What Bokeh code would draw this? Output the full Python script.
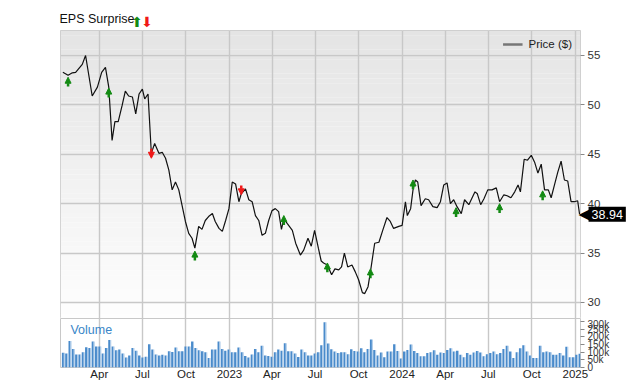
import numpy as np
import pandas as pd
from bokeh.plotting import figure
from bokeh.layouts import column
from bokeh.models import (Range1d, FixedTicker, Grid, Label, Arrow, NormalHead,
                          ColumnDataSource, Legend, LegendItem, CustomJSTickFormatter)
from bokeh.embed import file_html
from bokeh.resources import INLINE

# ---------------- data ----------------
price_dates = [
    "2022-01-14", "2022-01-25", "2022-02-03", "2022-02-10", "2022-02-24", "2022-03-03", "2022-03-17", "2022-03-28",
    "2022-04-06", "2022-04-14", "2022-04-21", "2022-04-28", "2022-05-04", "2022-05-11", "2022-05-19", "2022-05-26",
    "2022-06-02", "2022-06-10", "2022-06-17", "2022-06-24", "2022-07-01", "2022-07-06", "2022-07-13", "2022-07-20",
    "2022-07-27", "2022-08-05", "2022-08-12", "2022-08-19", "2022-08-26", "2022-09-02", "2022-09-09", "2022-09-16",
    "2022-09-23", "2022-09-30", "2022-10-07", "2022-10-14", "2022-10-20", "2022-10-28", "2022-11-04", "2022-11-11",
    "2022-11-18", "2022-11-26", "2022-12-02", "2022-12-10", "2022-12-17", "2022-12-24", "2022-12-31",
    "2023-01-07", "2023-01-14", "2023-01-21", "2023-01-26", "2023-02-04", "2023-02-11", "2023-02-18", "2023-02-25",
    "2023-03-04", "2023-03-11", "2023-03-18", "2023-03-25", "2023-04-01", "2023-04-08", "2023-04-15", "2023-04-21",
    "2023-04-26", "2023-05-03", "2023-05-14", "2023-05-21", "2023-05-31", "2023-06-07", "2023-06-16", "2023-06-23",
    "2023-06-30", "2023-07-08", "2023-07-14", "2023-07-19", "2023-07-27", "2023-08-05", "2023-08-12", "2023-08-20",
    "2023-08-26", "2023-09-01", "2023-09-08", "2023-09-17", "2023-09-24", "2023-10-01", "2023-10-09", "2023-10-14",
    "2023-10-21", "2023-10-26", "2023-11-04", "2023-11-13", "2023-11-21", "2023-11-30", "2023-12-07", "2023-12-14",
    "2023-12-25",
    "2024-01-01", "2024-01-08", "2024-01-12", "2024-01-19", "2024-01-24", "2024-01-29", "2024-02-03", "2024-02-10",
    "2024-02-19", "2024-02-26", "2024-03-06", "2024-03-15", "2024-03-22", "2024-03-29", "2024-04-05", "2024-04-12",
    "2024-04-19", "2024-04-26", "2024-05-05", "2024-05-12", "2024-05-21", "2024-06-03", "2024-06-08", "2024-06-15",
    "2024-06-22", "2024-06-30", "2024-07-09", "2024-07-18", "2024-07-25", "2024-08-03", "2024-08-10", "2024-08-18",
    "2024-08-26", "2024-09-02", "2024-09-07", "2024-09-15", "2024-09-22", "2024-09-30", "2024-10-07", "2024-10-14",
    "2024-10-21", "2024-10-28", "2024-11-05", "2024-11-11", "2024-11-18", "2024-11-25", "2024-12-02", "2024-12-09",
    "2024-12-16", "2024-12-23", "2024-12-30", "2025-01-06", "2025-01-10",
]
price = [
    53.3, 53.0, 53.25, 53.3, 54.1, 55.0, 50.9, 51.8,
    53.3, 53.8, 51.8, 46.4, 48.3, 48.3, 49.9, 51.4,
    50.9, 50.8, 49.1, 51.1, 51.6, 50.6, 51.1, 45.1,
    46.1, 45.1, 45.2, 44.6, 43.4, 41.4, 42.2, 41.4,
    39.8, 38.2, 37.0, 36.5, 35.5, 37.7, 37.4, 38.3,
    38.7, 39.0, 38.2, 37.5, 37.2, 38.3, 39.5,
    42.2, 42.0, 40.2, 41.0, 41.5, 40.4, 40.2, 38.8,
    38.3, 36.8, 37.0, 38.3, 39.3, 39.5, 39.2, 37.4,
    38.5, 38.0, 37.3, 36.0, 34.8, 35.3, 36.5, 35.7,
    37.3, 35.5, 34.2, 34.0, 33.8, 32.8, 33.4, 33.3,
    33.6, 35.0, 33.6, 33.8, 33.1, 32.3, 31.0, 30.9,
    31.6, 33.1, 36.0, 36.1, 37.3, 38.6, 38.2, 37.5,
    37.7,
    37.8, 40.2, 38.8, 39.5, 41.4, 42.4, 42.2, 39.8,
    40.5, 40.4, 39.7, 39.6, 40.2, 41.9, 42.1, 40.0,
    40.4, 39.7, 39.0, 40.4, 39.9, 41.2, 41.0, 39.9,
    40.5, 41.4, 41.4, 41.6, 40.2, 40.9, 40.8, 40.6,
    41.2, 41.9, 41.2, 44.5, 44.4, 44.9, 44.2, 43.1,
    44.0, 41.4, 41.4, 40.6, 41.9, 43.2, 44.3, 42.4,
    42.3, 40.2, 40.2, 40.3, 38.94,
]
last_price = 38.94

eps_dates = ["2022-01-25", "2022-04-21", "2022-07-20", "2022-10-20", "2023-01-26", "2023-04-26",
             "2023-07-27", "2023-10-26", "2024-01-24", "2024-04-24", "2024-07-25", "2024-10-24"]
eps_beat = [True, True, False, True, False, True, True, True, True, True, True, True]
eps_price = [52.8, 51.7, 44.6, 35.2, 40.9, 38.8, 34.0, 33.4, 42.4, 39.6, 40.0, 41.3]

volume_start = "2022-01-14"
volume_k = [
    96, 92, 173, 121, 85, 85, 100, 133, 127, 169,
    137, 137, 92, 127, 179, 137, 112, 117, 92, 65,
    79, 127, 110, 79, 65, 71, 152, 117, 85, 79,
    83, 79, 106, 102, 131, 106, 106, 137, 137, 169,
    127, 112, 106, 100, 62, 117, 117, 169, 121, 110,
    117, 100, 100, 131, 100, 75, 65, 85, 121, 100,
    142, 79, 75, 71, 100, 117, 110, 158, 106, 106,
    92, 69, 117, 100, 79, 79, 92, 100,
    146,
    296, 156, 119, 104, 94, 100, 100, 87, 119, 108,
    104, 125, 100, 121, 183, 115, 79, 98, 67, 104,
    104, 152, 108, 58, 104, 115, 150, 108, 94, 73,
    73, 94, 100, 112, 83, 98, 94, 115, 125, 104,
    110, 83, 67, 94, 83, 98, 108, 98, 73, 87,
    94, 104, 87, 94, 121, 142, 104, 62, 100, 125,
    146, 104, 79, 62, 62, 142, 100, 104, 100, 83,
    83, 94, 79, 135, 67, 67, 83, 90,
]

tick_dates = ["2022-04-01", "2022-07-01", "2022-10-01", "2023-01-01", "2023-04-01", "2023-07-01",
              "2023-10-01", "2024-01-01", "2024-04-01", "2024-07-01", "2024-10-01", "2025-01-01"]
tick_labels = ["Apr", "Jul", "Oct", "2023", "Apr", "Jul", "Oct", "2024", "Apr", "Jul", "Oct", "2025"]
price_ticks = [30, 35, 40, 45, 50, 55]
volume_ticks = [0, 50, 100, 150, 200, 250, 300]

# ---------------- styling ----------------
FONT = "Liberation Sans"
GRID = "#c8c8c8"
UP = "#138a13"
DOWN = "#f01818"
x_start = pd.Timestamp("2022-01-09")
x_end = pd.Timestamp("2025-01-12")
DAY = 86400000.0

tick_ms = [pd.Timestamp(d).value / 1e6 for d in tick_dates]
xr = Range1d(start=x_start, end=x_end)
y_lo, y_hi = 28.38, 57.53

p1 = figure(width=640, height=318, x_range=xr, y_range=Range1d(y_lo, y_hi),
            x_axis_type="datetime", x_axis_location=None, y_axis_location="right",
            output_backend="svg", toolbar_location=None,
            min_border_left=60, min_border_right=60, min_border_top=30, min_border_bottom=0)
p1.background_fill_color = "white"
p1.border_fill_color = "white"
p1.outline_line_color = GRID
p1.title.text = "EPS Surprise"
p1.title.text_font = FONT
p1.title.text_font_size = "12.5px"
p1.title.text_font_style = "normal"
p1.title.text_color = "#111111"
p1.title.offset = -1

# gradient background (decoration)
n = 60
edges = np.linspace(y_lo, y_hi, n + 1)
cols = []
for i in range(n):
    f = (i + 0.5) / n
    g = int(round(254 - f * (254 - 228)))
    cols.append("#%02x%02x%02x" % (g, g, g))
p1.quad(left=x_start, right=x_end, bottom=edges[:-1], top=edges[1:],
        fill_color=cols, line_color=None, level="image")

p1.add_layout(Grid(dimension=0, ticker=FixedTicker(ticks=tick_ms),
                   grid_line_color=GRID, grid_line_width=1.4))
p1.ygrid.grid_line_color = GRID
p1.ygrid.grid_line_width = 1.4
ax = p1.yaxis[0]
ax.ticker = FixedTicker(ticks=price_ticks)
ax.axis_line_color = None
ax.major_tick_out = 4
ax.major_tick_in = 0
ax.major_tick_line_color = "#888888"
ax.minor_tick_line_color = None
ax.major_label_standoff = 3
ax.major_label_text_font = FONT
ax.major_label_text_font_size = "11.5px"
ax.major_label_text_color = "#333333"

p1.line(pd.to_datetime(price_dates), price, line_color="#111111", line_width=1.2)

# legend sample line (kept outside the visible x range)
leg_r = p1.line(x=[x_start - pd.Timedelta(days=40), x_start - pd.Timedelta(days=20)],
                y=[40, 40], line_color="#777777", line_width=2.5)
legend = Legend(items=[LegendItem(label="Price ($)", renderers=[leg_r])],
                location="top_right", background_fill_alpha=0, border_line_color=None,
                label_text_font=FONT, label_text_font_size="11.5px", label_text_color="#222222",
                glyph_width=20, glyph_height=10, label_standoff=6, margin=8, padding=4)
p1.add_layout(legend)

# EPS surprise arrows
ed = pd.to_datetime(eps_dates)
for beat, color in ((True, UP), (False, DOWN)):
    xs = [d for d, b in zip(ed, eps_beat) if b == beat]
    tips = [v for v, b in zip(eps_price, eps_beat) if b == beat]
    starts = [t - 0.95 for t in tips] if beat else [t + 0.95 for t in tips]
    src = ColumnDataSource(dict(x=xs, y0=starts, y1=tips))
    p1.add_layout(Arrow(end=NormalHead(size=6, fill_color=color, line_color=color, line_width=1),
                        x_start="x", y_start="y0", x_end="x", y_end="y1", source=src,
                        line_color=color, line_width=2.5))

# title arrows (placed in the empty left side panel, positioned in data space)
p1.add_layout(Label(x=pd.Timestamp("2022-06-20"), y=58.35, text="\u2b06", text_baseline="middle",
                    text_align="center", text_color=UP, text_font="DejaVu Sans",
                    text_font_size="14px"), "left")
p1.add_layout(Label(x=pd.Timestamp("2022-07-11"), y=58.35, text="\u2b07", text_baseline="middle",
                    text_align="center", text_color=DOWN, text_font="DejaVu Sans",
                    text_font_size="14px"), "left")

# last price tag
last_dt = pd.Timestamp(price_dates[-1])
p1.add_layout(Label(x=last_dt, y=last_price, text="\u25c0", x_offset=-1,
                    text_baseline="middle", text_align="left", text_color="black",
                    text_font="DejaVu Sans", text_font_size="15px"), "left")
p1.add_layout(Label(x=last_dt, y=last_price, text="%.2f" % last_price, x_offset=9,
                    text_baseline="middle", text_align="left", text_color="white",
                    text_font=FONT, text_font_size="12.5px",
                    background_fill_color="black", padding=3), "right")

# ---------------- volume ----------------
p2 = figure(width=640, height=64, x_range=xr, y_range=Range1d(0, 320),
            x_axis_type="datetime", y_axis_location="right",
            output_backend="svg", toolbar_location=None,
            min_border_left=60, min_border_right=60, min_border_top=0, min_border_bottom=0)
p2.outline_line_color = GRID
p2.background_fill_color = "white"
vol_dates = pd.date_range(volume_start, periods=len(volume_k), freq="7D")
p2.vbar(x=vol_dates, top=volume_k, width=4.2 * DAY, fill_color="#4a8bcb", line_color=None)
p2.vbar(x=vol_dates + pd.Timedelta(hours=3.15 * 24), top=volume_k, width=2.1 * DAY,
        fill_color="#a8c8e8", line_color=None)

p2.xgrid.ticker = FixedTicker(ticks=tick_ms)
p2.xgrid.grid_line_color = GRID
p2.xgrid.grid_line_width = 1.4
p2.ygrid.visible = False
xa = p2.xaxis[0]
xa.ticker = FixedTicker(ticks=tick_ms)
xa.formatter = CustomJSTickFormatter(args=dict(tms=tick_ms, labs=tick_labels), code="""
for (let i = 0; i < tms.length; i++) { if (Math.abs(tms[i] - tick) < 1e6) return labs[i]; }
return '';
""")
xa.axis_label = None
xa.axis_label_standoff = 0
xa.axis_line_color = None
xa.major_tick_line_color = None
xa.minor_tick_line_color = None
xa.major_tick_out = 0
xa.major_tick_in = 0
xa.minor_tick_out = 0
xa.minor_tick_in = 0
xa.major_label_standoff = 0
xa.major_label_text_font = FONT
xa.major_label_text_font_size = "11.5px"
xa.major_label_text_line_height = 1.0
xa.major_label_text_color = "#222222"

va = p2.yaxis[0]
va.ticker = FixedTicker(ticks=volume_ticks)
va.formatter = CustomJSTickFormatter(code="return tick == 0 ? '0' : tick + 'k';")
va.axis_line_color = None
va.major_tick_out = 4
va.major_tick_in = 0
va.minor_tick_out = 0
va.major_tick_line_color = "#888888"
va.minor_tick_line_color = None
va.major_label_standoff = 3
va.major_label_text_font = FONT
va.major_label_text_font_size = "10px"
va.major_label_text_color = "#333333"

p2.add_layout(Label(x=pd.Timestamp("2022-01-30"), y=242, text="Volume", text_baseline="middle",
                    text_color="#3a86c8", text_font=FONT, text_font_size="12.5px"))

layout = column(p1, p2, spacing=0)
open("out.html", "w").write(file_html(layout, INLINE))
